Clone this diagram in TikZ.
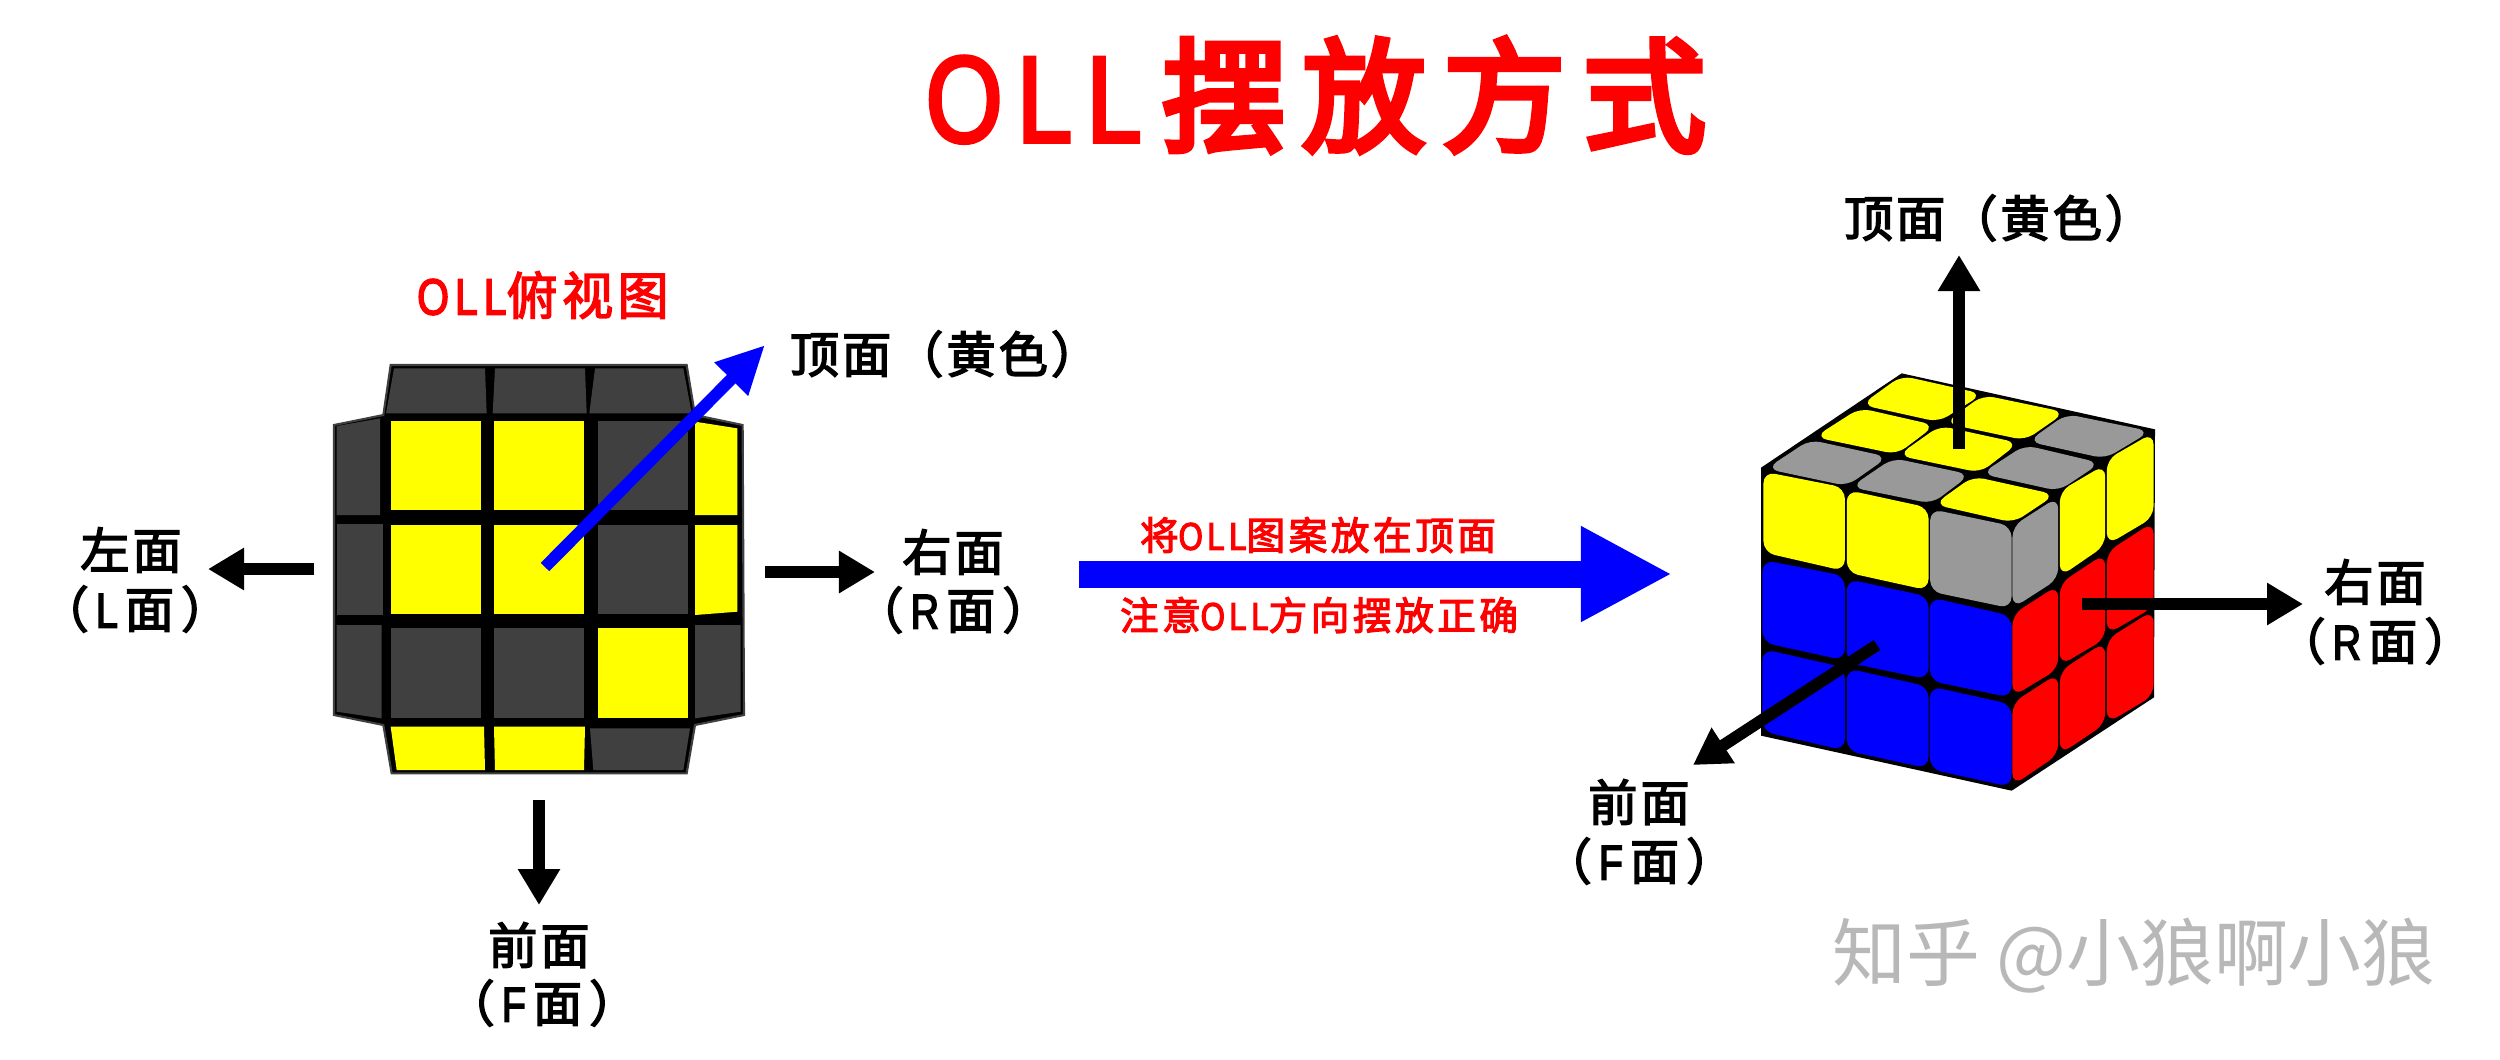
\documentclass[tikz,border=0pt]{standalone}
\usepackage{fontspec}
\newfontfamily\cjk[LetterSpace=9,FakeBold=3]{Noto Sans CJK SC}
\newfontfamily\cjkface[LetterSpace=6,FakeBold=3]{Noto Sans CJK SC}
\newfontfamily\cjkplain{Noto Sans CJK SC}
\newfontfamily\cjkwide[LetterSpace=14,FakeBold=5]{Noto Sans CJK SC}
\newfontfamily\narrow[LetterSpace=12,FakeStretch=0.8,FakeBold=3]{Liberation Sans}
\usetikzlibrary{arrows.meta}
\definecolor{cubeyellow}{HTML}{FFFF00}
\definecolor{cubeblue}{HTML}{0000FF}
\definecolor{cubered}{HTML}{FF0000}
\definecolor{cubegray}{HTML}{999999}
\definecolor{cubedark}{HTML}{404040}
\newcommand{\lat}[1]{{\narrow #1}}
\newcommand{\gap}{\hspace{2pt}}
\tikzset{
  sticker/.style={fill=#1,draw=#1,line width=0.5pt,rounded corners=3pt},
  flat/.style={fill=#1},
  facelabel/.style={font=\cjkface\fontsize{14}{16}\selectfont,inner sep=0pt},
  redlabel/.style={text=cubered,font=\cjk\fontsize{11}{13}\selectfont,inner sep=0pt},
  blackarrow/.style={line width=3.4pt,-{Triangle[length=0.36cm,width=0.4cm]}},
  bluearrow/.style={draw=cubeblue,line width=3.4pt,-{Triangle[length=0.48cm,width=0.44cm]}},
  bigarrow/.style={draw=cubeblue,line width=0.27cm,-{Triangle[length=0.91cm,width=0.89cm]}},
}
\begin{document}
\begin{tikzpicture}[x=0.01cm,y=-0.01cm]
\useasboundingbox (0,0) rectangle (2500,1059);
\node[text=cubered,font=\cjkwide\fontsize{35}{40}\selectfont,inner sep=0pt] (title) at (1316,95) {\lat{OLL}\,摆放方式};
% top view
\begin{scope}[shift={(300,320)},scale=1/3]
\fill[black,draw=cubedark,line width=0.6pt] (272,135)--(1160,135)--(1185,285)--(1328,315)--(1332,1185)--(1185,1215)--(1160,1360)--(275,1360)--(250,1215)--(102,1185)--(102,315)--(250,285)--cycle;
\foreach \col/\row/\c in {0/0/cubeyellow,1/0/cubeyellow,2/0/cubedark,0/1/cubeyellow,1/1/cubeyellow,2/1/cubedark,0/2/cubedark,1/2/cubedark,2/2/cubeyellow}
  \fill[\c] ({272+\col*311},{303+\row*311}) rectangle ++(270,268);
\fill[flat=cubedark] (282,145)--(555,145)--(560,280)--(258,280)--cycle;
\fill[flat=cubedark] (585,145)--(855,145)--(860,280)--(578,280)--cycle;
\fill[flat=cubedark] (885,145)--(1150,145)--(1175,280)--(868,280)--cycle;
\fill[flat=cubedark] (110,318)--(240,295)--(240,585)--(110,585)--cycle;
\fill[flat=cubedark] (110,612)--(250,612)--(250,885)--(110,885)--cycle;
\fill[flat=cubedark] (110,915)--(245,915)--(245,1195)--(110,1175)--cycle;
\fill[flat=cubeyellow] (1185,305)--(1312,325)--(1312,585)--(1185,585)--cycle;
\fill[flat=cubeyellow] (1185,615)--(1312,615)--(1312,875)--(1185,885)--cycle;
\fill[flat=cubedark] (1185,915)--(1322,915)--(1322,1175)--(1185,1195)--cycle;
\fill[flat=cubeyellow] (272,1220)--(552,1220)--(555,1350)--(290,1350)--cycle;
\fill[flat=cubeyellow] (582,1220)--(855,1220)--(852,1350)--(585,1350)--cycle;
\fill[flat=cubedark] (870,1225)--(1170,1225)--(1150,1350)--(880,1350)--cycle;
\end{scope}
% cube
\begin{scope}[shift={(1700,360)},scale=1/3]
\fill[black] (605,40)--(1365,208)--(1362,1012)--(935,1292)--(183,1127)--(183,323)--cycle;
\fill[sticker=cubeyellow] (605,50)--(842,103)--(715,183)--(490,133)--cycle;
\fill[sticker=cubeyellow] (850,108)--(1090,158)--(975,238)--(740,188)--cycle;
\fill[sticker=cubegray] (1100,165)--(1345,215)--(1215,293)--(990,243)--cycle;
\fill[sticker=cubeyellow] (480,147)--(700,197)--(590,280)--(350,230)--cycle;
\fill[sticker=cubeyellow] (720,200)--(950,250)--(840,335)--(600,285)--cycle;
\fill[sticker=cubegray] (975,258)--(1195,310)--(1075,390)--(850,340)--cycle;
\fill[sticker=cubegray] (330,242)--(558,292)--(440,375)--(205,325)--cycle;
\fill[sticker=cubegray] (580,297)--(805,345)--(695,428)--(458,380)--cycle;
\fill[sticker=cubeyellow] (820,352)--(1060,405)--(940,485)--(708,432)--cycle;
\fill[sticker=cubeyellow] (193,338)--(432,385)--(432,630)--(193,575)--cycle;
\fill[sticker=cubeyellow] (443,393)--(683,445)--(683,688)--(443,635)--cycle;
\fill[sticker=cubegray] (693,450)--(932,500)--(932,742)--(693,692)--cycle;
\fill[sticker=cubeblue] (190,603)--(432,650)--(432,898)--(190,845)--cycle;
\fill[sticker=cubeblue] (443,660)--(683,712)--(683,955)--(443,905)--cycle;
\fill[sticker=cubeblue] (692,715)--(932,770)--(932,1010)--(692,960)--cycle;
\fill[sticker=cubeblue] (190,870)--(432,925)--(432,1168)--(190,1112)--cycle;
\fill[sticker=cubeblue] (443,928)--(683,982)--(683,1222)--(443,1170)--cycle;
\fill[sticker=cubeblue] (692,982)--(932,1035)--(932,1278)--(692,1225)--cycle;
\fill[sticker=cubegray] (940,500)--(1072,415)--(1072,655)--(940,740)--cycle;
\fill[sticker=cubeyellow] (1082,395)--(1213,318)--(1213,555)--(1082,645)--cycle;
\fill[sticker=cubeyellow] (1223,300)--(1358,222)--(1358,470)--(1223,550)--cycle;
\fill[sticker=cubered] (940,765)--(1072,680)--(1072,925)--(940,1005)--cycle;
\fill[sticker=cubered] (1082,672)--(1213,585)--(1213,835)--(1082,912)--cycle;
\fill[sticker=cubered] (1223,578)--(1358,490)--(1358,740)--(1223,818)--cycle;
\fill[sticker=cubered] (940,1030)--(1072,945)--(1072,1182)--(940,1272)--cycle;
\fill[sticker=cubered] (1082,935)--(1213,850)--(1213,1090)--(1082,1178)--cycle;
\fill[sticker=cubered] (1223,840)--(1358,755)--(1358,1005)--(1223,1085)--cycle;
\end{scope}
\node[redlabel,font=\cjk\fontsize{14.5}{16}\selectfont] (view) at (543,295) {\lat{OLL}俯视图};
\node[facelabel] (n1) at (945,354) {顶面（黄色）};
\node[facelabel] (n2) at (131,550) {左面};
\node[facelabel] (n3) at (135,609) {（\gap\lat{L}\gap 面\gap）};
\node[facelabel] (n4) at (953,552) {右面};
\node[facelabel] (n5) at (953,610) {（\gap\lat{R}\gap 面\gap）};
\node[facelabel] (n6) at (539,945) {前面};
\node[facelabel] (n7) at (542,1003) {（\gap\lat{F}\gap 面\gap）};
\node[facelabel] (n8) at (1999,218) {顶面（黄色）};
\node[facelabel] (n9) at (2375,582) {右面};
\node[facelabel] (n10) at (2375,641) {（\gap\lat{R}\gap 面\gap）};
\node[facelabel] (n11) at (1639,802) {前面};
\node[facelabel] (n12) at (1639,861) {（\gap\lat{F}\gap 面\gap）};
\node[redlabel] (n13) at (1318,535) {将\lat{OLL}图案放在顶面};
\node[redlabel] (n14) at (1319,615) {注意\lat{OLL}方向摆放正确};
\node[text=cubegray!70,font=\cjkplain\fontsize{21}{24}\selectfont,inner sep=0pt] (mark) at (2134,956) {知乎 @小狼啊小狼};
\coordinate (a1) at (545,567);
\coordinate (a2) at (765,345);
\coordinate (b1) at (314,569);
\coordinate (b2) at (208,569);
\coordinate (c1) at (765,572);
\coordinate (c2) at (875,572);
\coordinate (d1) at (539,800);
\coordinate (d2) at (539,905);
\coordinate (e1) at (1079,574);
\coordinate (e2) at (1672,574);
\coordinate (f1) at (1959,449);
\coordinate (f2) at (1959,255);
\coordinate (g1) at (2082,604);
\coordinate (g2) at (2303,604);
\coordinate (h1) at (1877,645);
\coordinate (h2) at (1693,765);
\draw[bluearrow] (a1) -- (a2);
\draw[blackarrow] (b1) -- (b2);
\draw[blackarrow] (c1) -- (c2);
\draw[blackarrow] (d1) -- (d2);
\draw[bigarrow] (e1) -- (e2);
\draw[blackarrow] (f1) -- (f2);
\draw[blackarrow] (g1) -- (g2);
\draw[blackarrow] (h1) -- (h2);
\end{tikzpicture}
\end{document}
